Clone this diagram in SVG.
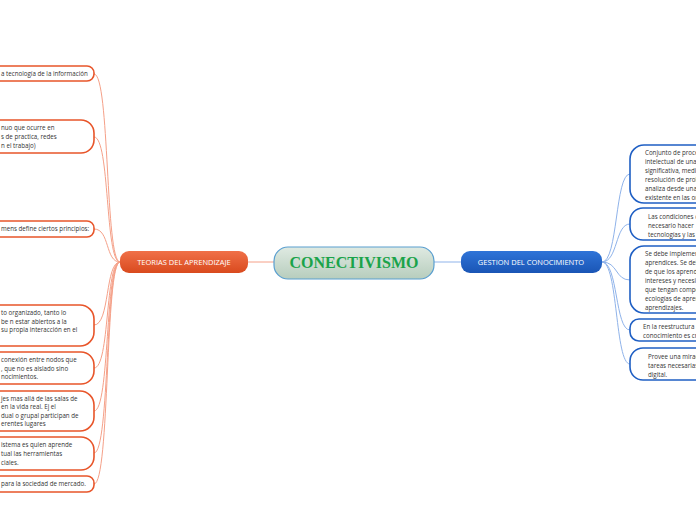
<svg xmlns="http://www.w3.org/2000/svg" width="696" height="520" viewBox="0 0 696 520">
<defs>
<linearGradient id="gc" x1="0" y1="0" x2="0" y2="1"><stop offset="0" stop-color="#dfeae2"/><stop offset="1" stop-color="#b7cdbd"/></linearGradient>
<linearGradient id="go" x1="0" y1="0" x2="0" y2="1"><stop offset="0" stop-color="#f07048"/><stop offset="1" stop-color="#d94a1e"/></linearGradient>
<linearGradient id="gb" x1="0" y1="0" x2="0" y2="1"><stop offset="0" stop-color="#2f74d8"/><stop offset="1" stop-color="#1a55b5"/></linearGradient>
</defs>
<style>
.t{font-family:"Open Sans","Liberation Sans",sans-serif;font-size:6.2px;fill:#333}
.lo{fill:#fff;stroke:#e8552a;stroke-width:1.6}
.lb{fill:#fff;stroke:#1f5fc4;stroke-width:1.6}
.co{fill:none;stroke:#f5a088;stroke-width:1}
.cb{fill:none;stroke:#8fb3ea;stroke-width:1}
.m{font-family:"Open Sans","Liberation Sans",sans-serif;font-size:7.5px;fill:#fff}
</style>
<rect width="696" height="520" fill="#fff"/>
<g id="connectors">
<path class="co" d="M248,262 H274"/>
<path class="cb" d="M434,262 H461"/>
<path class="co" d="M120,262 C105,262 110,74 94,74"/>
<path class="co" d="M120,262 C105,262 110,137 94,137"/>
<path class="co" d="M120,262 C105,262 110,229 94,229"/>
<path class="co" d="M120,262 C105,262 110,325 94,325"/>
<path class="co" d="M120,262 C105,262 110,368 94,368"/>
<path class="co" d="M120,262 C105,262 110,411 94,411"/>
<path class="co" d="M120,262 C105,262 110,453 94,453"/>
<path class="co" d="M120,262 C105,262 110,484 94,484"/>
<path class="cb" d="M602,262 C618,262 615,174 630,174"/>
<path class="cb" d="M602,262 C618,262 615,224 630,224"/>
<path class="cb" d="M602,262 C618,262 615,280 630,280"/>
<path class="cb" d="M602,262 C618,262 615,330 630,330"/>
<path class="cb" d="M602,262 C618,262 615,364 630,364"/>
</g>
<g id="center"><rect x="274" y="247" width="160" height="32" rx="14" fill="url(#gc)" stroke="#5a9fd0" stroke-width="1.2"/>
<text x="354" y="268" text-anchor="middle" font-family="Liberation Serif,serif" font-weight="bold" font-size="16" fill="#1aa34a">CONECTIVISMO</text></g>
<g id="teorias"><rect x="120" y="251" width="128" height="22" rx="9" fill="url(#go)"/><text class="m" x="184" y="265" text-anchor="middle">TEORIAS DEL APRENDIZAJE</text></g>
<g id="gestion"><rect x="461" y="251" width="141" height="22" rx="9" fill="url(#gb)"/><text class="m" x="531" y="265" text-anchor="middle">GESTION DEL CONOCIMIENTO</text></g>
<g id="l1"><rect class="lo" x="-20" y="66" width="114" height="15" rx="7"/><text class="t" x="1" y="76">a tecnología de la información</text></g>
<g id="l2"><rect class="lo" x="-20" y="120" width="114" height="33" rx="13"/><text class="t" x="1" y="130">nuo que ocurre en</text><text class="t" x="1" y="139">s de practica, redes</text><text class="t" x="1" y="148">n el trabajo)</text></g>
<g id="l3"><rect class="lo" x="-20" y="221" width="114" height="16" rx="7"/><text class="t" x="1" y="231">mens define ciertos principios:</text></g>
<g id="l4"><rect class="lo" x="-20" y="305" width="114" height="41" rx="14"/><text class="t" x="1" y="315">to organizado, tanto lo</text><text class="t" x="1" y="324">be n estar abiertos a la</text><text class="t" x="1" y="332">su propia interacción en el</text></g>
<g id="l5"><rect class="lo" x="-20" y="352" width="114" height="32" rx="13"/><text class="t" x="1" y="362">conexión entre nodos que</text><text class="t" x="1" y="371">, que no es aislado sino</text><text class="t" x="1" y="379">nocimientos.</text></g>
<g id="l6"><rect class="lo" x="-20" y="391" width="114" height="40" rx="14"/><text class="t" x="1" y="401">jes mas allá de las salas de</text><text class="t" x="1" y="409">en la vida real. Ej el</text><text class="t" x="1" y="418">dual o grupal participan de</text><text class="t" x="1" y="426">erentes lugares</text></g>
<g id="l7"><rect class="lo" x="-20" y="437" width="114" height="33" rx="13"/><text class="t" x="1" y="447">istema es quien aprende</text><text class="t" x="1" y="456">tual las herramientas</text><text class="t" x="1" y="465">ciales.</text></g>
<g id="l8"><rect class="lo" x="-20" y="476" width="114" height="16" rx="7"/><text class="t" x="1" y="486">para la sociedad de mercado.</text></g>
<g id="r1"><rect class="lb" x="630" y="145" width="90" height="58" rx="14"/><text class="t" x="645" y="155">Conjunto de proce</text><text class="t" x="645" y="164">intelectual de una</text><text class="t" x="645" y="173">significativa, media</text><text class="t" x="645" y="182">resolución de prob</text><text class="t" x="645" y="191">analiza desde una</text><text class="t" x="645" y="200">existente en las or</text></g>
<g id="r2"><rect class="lb" x="630" y="208" width="90" height="32" rx="13"/><text class="t" x="648" y="219">Las condiciones c</text><text class="t" x="648" y="228">necesario hacer</text><text class="t" x="648" y="237">tecnologías y las</text></g>
<g id="r3"><rect class="lb" x="630" y="246" width="90" height="67" rx="14"/><text class="t" x="645" y="256">Se debe implemen</text><text class="t" x="645" y="265">aprendices. Se del</text><text class="t" x="645" y="274">de que los aprendi</text><text class="t" x="645" y="283">intereses y necesi</text><text class="t" x="645" y="292">que tengan compe</text><text class="t" x="645" y="301">ecologías de apren</text><text class="t" x="645" y="310">aprendizajes.</text></g>
<g id="r4"><rect class="lb" x="630" y="319" width="90" height="22" rx="9"/><text class="t" x="643" y="329">En la reestructura</text><text class="t" x="643" y="338">conocimiento es cr</text></g>
<g id="r5"><rect class="lb" x="630" y="348" width="90" height="32" rx="13"/><text class="t" x="648" y="359">Provee una mirad</text><text class="t" x="648" y="368">tareas necesarias</text><text class="t" x="648" y="377">digital.</text></g>
</svg>
